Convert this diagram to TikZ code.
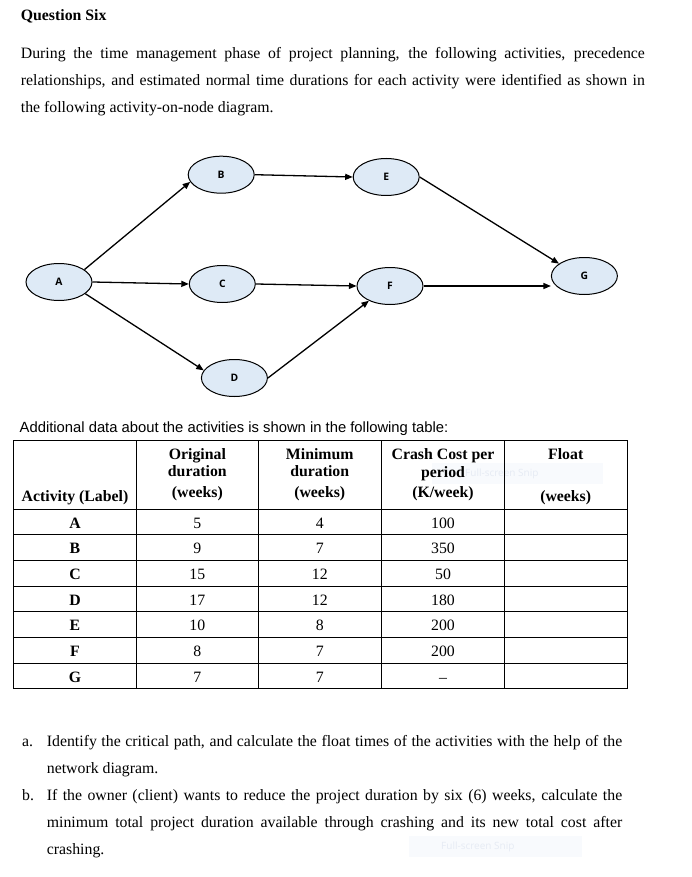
\documentclass[tikz,border=0pt]{standalone}
\usepackage{fontspec}
\setmainfont{Liberation Serif}
\newfontfamily\arialf{Liberation Sans}
\newfontfamily\osf{Open Sans}
\usetikzlibrary{arrows.meta,shapes.geometric}
\definecolor{nodefill}{HTML}{DEEAF6}
\definecolor{snipbg}{HTML}{F8FAFD}
\definecolor{sniptx}{HTML}{E6EBF4}
\begin{document}
\begin{tikzpicture}[x=1pt,y=-1pt,
  act/.style={ellipse,draw,line width=1pt,fill=nodefill,minimum width=66pt,minimum height=37pt,inner sep=0pt,font=\osf\bfseries\fontsize{10.3}{12}\selectfont},
  arr/.style={line width=1.3pt,-{Triangle[length=7.5pt,width=6pt]}},
  txt/.style={anchor=base west,inner sep=0pt,font=\fontsize{15.8}{18}\selectfont},
  hdr/.style={anchor=base,inner sep=0pt,font=\bfseries\fontsize{15.8}{18}\selectfont},
  cell/.style={anchor=base,inner sep=0pt,font=\fontsize{15.8}{18}\selectfont},
  snip/.style={fill=snipbg,draw=none},
  sniptext/.style={inner sep=0pt,text=sniptx,font=\osf\fontsize{10}{12}\selectfont},
  grid/.style={line width=1pt}
]
\useasboundingbox (0,0) rectangle (691,877);
\fill[white] (0,0) rectangle (691,877);

% ---------- heading and paragraph ----------
\node[txt,font=\bfseries\fontsize{15.8}{18}\selectfont] (title) at (20.7,21) {Question Six};
\node[txt] (p1) at (20.7,58.3) {\makebox[624pt][s]{During the time management phase of project planning, the following activities, precedence}};
\node[txt] (p2) at (20.7,85.3) {\makebox[624pt][s]{relationships, and estimated normal time durations for each activity were identified as shown in}};
\node[txt] (p3) at (20.7,112.7) {the following activity-on-node diagram.};

% ---------- activity-on-node diagram ----------
\node[act] (A) at (59,282) {A};
\node[act] (B) at (221.2,174.7) {B};
\node[act] (C) at (222.3,284) {C};
\node[act] (D) at (234.4,378) {D};
\node[act] (E) at (386.2,177) {E};
\node[act] (F) at (390,286) {F};
\node[act] (G) at (584.4,276) {G};

\draw[arr] (A.26) -- (B.193);
\draw[arr] (A.east) -- (C.west);
\draw[arr] (A.-24) -- (D.166);
\draw[arr] (B.east) -- (E.west);
\draw[arr] (C.east) -- (F.west);
\draw[arr] (D.east) -- (F.215);
\draw[arr] (E.east) -- (G.154);
\draw[arr] (F.east) -- (F.east -| G.west);

% ---------- table ----------
\node[txt,font=\arialf\fontsize{14.8}{17}\selectfont] (tcap) at (19.5,432.7) {Additional data about the activities is shown in the following table:};

\fill[snip] (431.7,462.7) rectangle (603.3,484.3);
\node[sniptext,anchor=west] (snip1) at (465,474) {Full-screen Snip};

\draw[grid] (13.3,440.7) rectangle (627,688.3);
\foreach \xx in {136.7,258,381.5,504.4}
  \draw[grid] (\xx,440.7) -- (\xx,688.3);
\foreach \yy in {509.3,534.3,560.3,586.3,611.7,637.7,663.3}
  \draw[grid] (13.3,\yy) -- (627,\yy);

\node[hdr] (h1) at (75,501) {Activity (Label)};
\node[hdr] (h2a) at (197.35,459.3) {Original};
\node[hdr] (h2b) at (197.35,476.7) {duration};
\node[hdr] (h2c) at (197.35,497.3) {(weeks)};
\node[hdr] (h3a) at (319.75,459.3) {Minimum};
\node[hdr] (h3b) at (319.75,476.7) {duration};
\node[hdr] (h3c) at (319.75,497.3) {(weeks)};
\node[hdr] (h4a) at (443,459.3) {Crash Cost per};
\node[hdr] (h4b) at (443,477) {period};
\node[hdr] (h4c) at (443,497.3) {(K/week)};
\node[hdr] (h5a) at (565.7,459.3) {Float};
\node[hdr] (h5b) at (565.7,501) {(weeks)};

\foreach \lab/\o/\m/\c [count=\i] in {A/5/4/100,B/9/7/350,C/15/12/50,D/17/12/180,E/10/8/200,F/8/7/200,G/7/7/\textendash}{
  \pgfmathsetmacro{\yb}{528+(\i-1)*25.67}
  \node[hdr] (r\i a) at (75,\yb) {\lab};
  \node[cell] (r\i b) at (197.35,\yb) {\o};
  \node[cell] (r\i c) at (319.75,\yb) {\m};
  \node[cell] (r\i d) at (443,\yb) {\c};
}

% ---------- questions ----------
\node[txt] (qa) at (22,746.7) {a.};
\node[txt] (qa1) at (46.7,746.7) {\makebox[575.3pt][s]{Identify the critical path, and calculate the float times of the activities with the help of the}};
\node[txt] (qa2) at (46.7,773.3) {network diagram.};
\node[txt] (qb) at (22,800.3) {b.};
\node[txt] (qb1) at (46.7,800.3) {\makebox[575.3pt][s]{If the owner (client) wants to reduce the project duration by six (6) weeks, calculate the}};
\node[txt] (qb2) at (46.7,827.7) {\makebox[575.3pt][s]{minimum total project duration available through crashing and its new total cost after}};
\fill[snip] (409.3,836) rectangle (581.7,857.3);
\node[sniptext,anchor=west] (snip2) at (441,846.7) {Full-screen Snip};
\node[txt] (qb3) at (46.7,854) {crashing.};
\end{tikzpicture}
\end{document}
